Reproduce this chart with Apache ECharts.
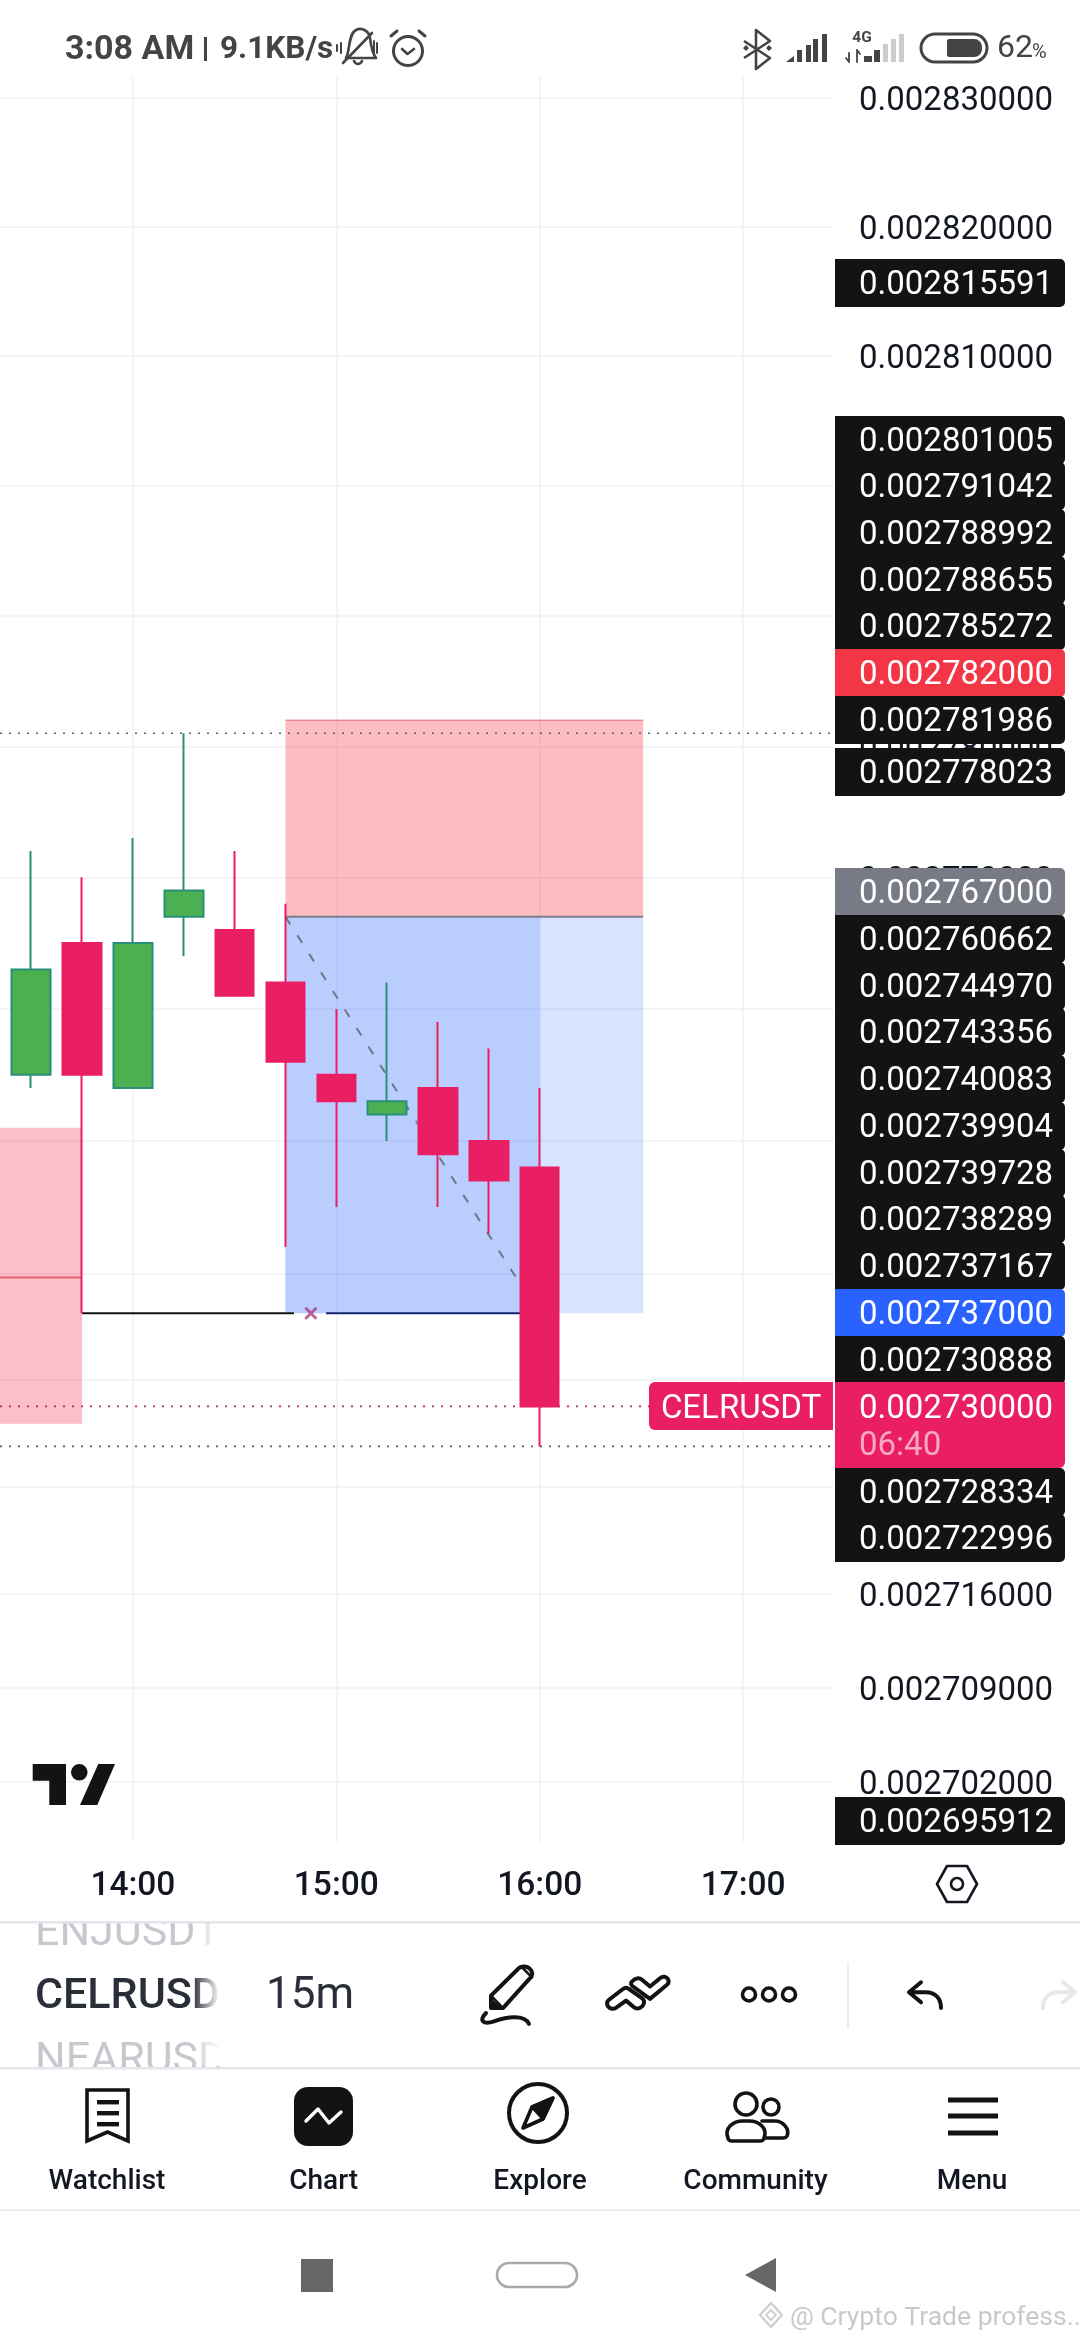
<!DOCTYPE html>
<html><head><meta charset="utf-8">
<style>html,body{margin:0;padding:0;background:#fff}#c{width:1080px;height:2340px}</style>
<script src="https://cdn.jsdelivr.net/npm/echarts@6/dist/echarts.min.js"></script>
</head><body><div id="c"></div>
<script>
// ---------- data ----------
const candleTimes = ['13:30','13:45','14:00','14:15','14:30','14:45','15:00','15:15','15:30','15:45','16:00'];
const opens  = [2755,2765,2754,2767,2766,2762,2755,2752,2754,2750,2748];
const closes = [2763,2755,2765,2769,2761,2756,2753,2753,2749,2747,2730];
const lows   = [2754,2737,2754,2764,2761,2742,2745,2750,2745,2743,2727];
const highs  = [2772,2770,2773,2781,2772,2768,2760,2762,2759,2757,2754];
const axisTicks = [0.00283,0.00282,0.00281,0.0028,0.00279,0.00278,0.00277,0.00276,0.00275,0.00274,0.002732,0.002724,0.002716,0.002709,0.002702];
const timeTicks = ['14:00','15:00','16:00','17:00'];
const badgeValues = ['0.002815591','0.002801005','0.002791042','0.002788992','0.002788655','0.002785272','0.002782000','0.002781986','0.002778023','0.002767000','0.002760662','0.002744970','0.002743356','0.002740083','0.002739904','0.002739728','0.002738289','0.002737167','0.002737000','0.002730888','0.002730000','0.002728334','0.002722996','0.002695912'];
const dottedLevels = [2781,2730,2727];
const targetTop = 2782, entry = 2767, stop = 2737;
const leftBoxTop = 2751, leftBoxMid = 2739.7, leftBoxBottom = 2728.7;
const navLabels = ['Watchlist','Chart','Explore','Community','Menu'];

// ---------- helpers ----------
const T = s => { const p = s.split(':').map(Number); return p[0]*60 + p[1] + (p[2]||0)/60; };
const P = u => u * 1e-6;
const hhmm = v => String(Math.floor(v/60)).padStart(2,'0') + ':' + String(Math.round(v%60)).padStart(2,'0');
const xMin = T('13:20:48'), xMax = T('17:26:30');
const boxEnd = T('16:30:30');
const FONT = 'Roboto';

// ---------- page furniture (badges, status bar, toolbars) ----------
const badgeCenters = [283,440,486,533,580,626,673,720,772,892,939,986,1032,1079,1126,1173,1219,1266,1313,1360,1405,1492,1538,1821];
const badgeColor = v => ({'0.002782000':'#f23645','0.002767000':'#787b86','0.002737000':'#2962ff','0.002730000':'#e91e63'})[v] || '#131313';
const g = [];
const Z = 50;
const txt = (text,x,y,size,fill,weight,align,z) => g.push({type:'text',z:z||Z,style:{text,x,y:y+3,fill,font:`${weight||400} ${size}px ${FONT}`,textAlign:align||'left',textVerticalAlign:'middle'}});
let shapeId = 0;
function svg(d,opt,z){
  const name = 'ic' + (shapeId++);
  echarts.graphic.registerShape(name, echarts.graphic.extendPath(d,{}));
  g.push({type:name,z:z||Z,style:Object.assign({fill:null,stroke:null,lineCap:'round',lineJoin:'round'},opt)});
}
const rect = (x,y,w,h,fill,r,z) => g.push({type:'rect',z:z||Z,shape:{x,y,width:w,height:h,r:r||0},style:{fill}});

badgeValues.forEach((v,i)=>{
  const cy = badgeCenters[i];
  if (v==='0.002730000') return;
  rect(835,cy-24,230,48,badgeColor(v),[0,5,5,0],Z+i);
  txt(v,859,cy,33,'#ffffff',400,'left',Z+i+0.5);
});
// current-price badge with countdown
rect(835,1382,230,86,'#e91e63',[0,0,6,0],Z+40);
txt('0.002730000',859,1407,33,'#fff',400,'left',Z+41);
txt('06:40',859,1444,33,'#f7a8c4',400,'left',Z+41);
rect(649,1382,184,48,'#e91e63',[6,0,0,6],Z+40);
txt('CELRUSDT',741,1407,33,'#fff',400,'center',Z+41);

// TradingView logo
svg('M32.7 1764H66V1805H49.3V1780.7H32.7Z',{fill:'#131313'});
svg('M98.3 1764H115L97.3 1805H80Z',{fill:'#131313'});
g.push({type:'circle',z:Z,shape:{cx:79.3,cy:1772.3,r:8.3},style:{fill:'#131313'}});

// status bar
txt('3:08 AM',65,47,34,'#444444',700);
rect(204,37,3,24,'#444');
txt('9.1KB/s',220,47,31.5,'#444444',700);
const S = {stroke:'#444',lineWidth:2.6};
svg('M346 58C350 52 348 34 356 30C362 27 369 31 370 38C371 46 372 53 376 58Z',S);
svg('M343 63L372 33',S);
svg('M354 61C356 65 360 65 362 61',S);
svg('M341 43V53M337 45V51M377 43V53M374 41V55',{stroke:'#444',lineWidth:2});
g.push({type:'circle',z:Z,shape:{cx:408,cy:51,r:14.5},style:{fill:null,stroke:'#444',lineWidth:3}});
svg('M391 36L397 31M425 36L419 31',{stroke:'#444',lineWidth:3});
svg('M402 49L407.5 54L414 49',{stroke:'#444',lineWidth:2.6});
svg('M744 41L770 58L756 69V30L770 41L744 58',{stroke:'#444',lineWidth:2.6,lineCap:'butt'});
svg('M743 48l3-3 3 3-3 3ZM766 48l3-3 3 3-3 3Z',{fill:'#444'});
// signal bars
svg('M786 62L794 56V62Z',{fill:'#444'});
[[797,5,12],[806,5,17],[813,5,23],[822,5,28]].forEach(b=>rect(b[0],62-b[2],b[1],b[2],'#444'));
[[864,8,6,'#444'],[874,6,12,'#444'],[883,5,18,'#cccccc'],[891,5,23,'#cccccc'],[899,5,28,'#cccccc']].forEach(b=>rect(b[0],62-b[2],b[1],b[2],b[3]));
txt('4G',862,35,15.5,'#444',700,'center');
svg('M849 53V62M846 58L849 62M857 62V50M857 50L860 54',{stroke:'#444',lineWidth:1.8});
g.push({type:'rect',z:Z,shape:{x:921,y:34,width:66,height:28,r:14},style:{fill:null,stroke:'#444',lineWidth:3}});
rect(947,39,35,18,'#444',[2,8,8,2]);
txt('62',997,46,32,'#444',400);
txt('%',1032,50,20,'#444',400);

// x-axis settings hexagon
svg('M937 1884L947 1866H967L977 1884L967 1902H947Z',{stroke:'#131722',lineWidth:2.6});
g.push({type:'circle',z:Z,shape:{cx:957,cy:1884,r:6},style:{fill:null,stroke:'#131722',lineWidth:2.6}});

// separators
rect(0,1921,1080,2.5,'#e4e6ec',0,Z-2);
rect(0,2067,1080,2.5,'#e4e6ec',0,Z+1);
rect(0,2209.5,1080,1.5,'#e4e6ec');
rect(847,1962,2,67,'#ecedf1');

// symbol carousel
txt('ENJUSDT',35,1931,43,'#c6c8ce',400,'left',Z-5);
txt('NEARUSDT',35,2058,43,'#c6c8ce',400,'left',Z-5);
rect(0,1900,700,21,'#fff',0,Z-4);
rect(0,2068,400,12,'#fff',0,Z-4);
txt('CELRUSD',35,1994,43,'#2a2e39',500,'left',Z-5);
g.push({type:'rect',z:Z-4,shape:{x:192,y:1924,width:28,height:142},style:{fill:{type:'linear',x:0,y:0,x2:1,y2:0,colorStops:[{offset:0,color:'rgba(255,255,255,0)'},{offset:1,color:'#fff'}]}}});
rect(220,1924,40,142,'#fff',0,Z-4);
rect(220,2030,120,37,'#fff',0,Z-4);
txt('15m',266,1994,44,'#2a2e39',400);

// toolbar icons (drawn on a 1940-based baseline, compressed to the toolbar height)
const squash = d => d.replace(/([MLCV])([^MLCVHZ]*)/g,(m,c,a)=>c+a.trim().split(/\s+/).map((v,i)=>(c==='V'||i%2===1)?(1940+(+v-1940)*0.83).toFixed(1):v).join(' ')+' ');
const B = {stroke:'#131313',lineWidth:4};
svg(squash('M491 2022V2007L518 1975C521 1971 527 1971 530 1975C533 1978 533 1983 530 1986L503 2022Z'),B);
svg(squash('M491 2007L503 2022M522 1973L532 1985'),{stroke:'#131313',lineWidth:2.6});
svg(squash('M491 2022V2010L502 2022Z'),{fill:'#131313'});
svg(squash('M486 2028C478 2038 484 2042 494 2038C506 2033 524 2029 529 2041'),B);
svg(squash('M608 2020C606 2016 607 2014 609 2012L623 1999C625 1997 627 1997 629 1999L643 2011C645 2014 644 2019 641 2021C639 2023 636 2023 634 2021L626 2013L617 2021C614 2024 610 2023 608 2020Z'),B);
svg(squash('M632 1990C635 1986 639 1985 642 1988L650 1996L660 1986C663 1983 666 1984 668 1987C669 1990 669 1992 667 1994L650 2011L633 1996C631 1994 630 1992 632 1990Z'),B);
[749,769,789].forEach(x=>g.push({type:'circle',z:Z,shape:{cx:x,cy:1994.5,r:6.5},style:{fill:null,stroke:'#131313',lineWidth:3.6}}));
svg(squash('M921 1991L909 2003L921 2015M909 2003H926C935 2003 941 2010 941 2022'),B);
svg(squash('M1063 1991L1075 2003L1063 2015M1075 2003H1058C1049 2003 1043 2010 1043 2022'),{stroke:'#e8e8ea',lineWidth:4});

// bottom nav
const navX = [107,323.7,540,755.5,972];
navLabels.forEach((t,i)=>txt(t,navX[i],2179,28,'#131722',500,'center'));
svg('M87 2090H128V2141L107.5 2132L87 2141Z',{stroke:'#131313',lineWidth:3.6,lineCap:'butt',lineJoin:'miter'});
[2102,2113,2124].forEach(y=>rect(97,y-2,22,4.4,'#131313'));
rect(294,2087,59,59,'#131313',14);
svg('M306 2121L318 2109L329 2123L341 2112',{stroke:'#fff',lineWidth:3.4});
g.push({type:'circle',z:Z,shape:{cx:538,cy:2113,r:29},style:{fill:null,stroke:'#131313',lineWidth:4}});
svg('M553 2098L543 2119L523 2128L532 2107Z',{stroke:'#131313',lineWidth:3.6});
svg('M553 2098L543 2119L532 2107Z',{fill:'#131313',stroke:'#131313',lineWidth:3});
g.push({type:'circle',z:Z,shape:{cx:746,cy:2104,r:11},style:{fill:null,stroke:'#131313',lineWidth:3.6}});
g.push({type:'circle',z:Z,shape:{cx:771,cy:2107,r:8},style:{fill:null,stroke:'#131313',lineWidth:3.6}});
svg('M728 2138C724 2128 733 2121 743 2121H749C759 2121 768 2128 764 2138C764 2140 762 2141 760 2141H732C730 2141 728 2140 728 2138Z',{stroke:'#131313',lineWidth:3.6});
svg('M762 2121H775C783 2121 790 2129 787 2136C786 2138 785 2138 783 2138H766',{stroke:'#131313',lineWidth:3.6});
[2100,2116,2133].forEach(y=>rect(948,y-2.6,50,5.2,'#131313'));

// android nav
rect(301,2259,32,33,'#666');
g.push({type:'rect',z:Z,shape:{x:497,y:2263,width:80,height:24,r:12},style:{fill:null,stroke:'#aaaaaa',lineWidth:2.6}});
svg('M776 2258V2292L745 2275Z',{fill:'#666'});

// watermark
txt('@ Crypto Trade profess...',790,2315,26.5,'#c9c9c9',400);
svg('M771 2303L782 2315L771 2327L760 2315Z',{stroke:'#cfcfcf',lineWidth:2.4});
svg('M771 2310L776 2315L771 2320L766 2315Z',{stroke:'#cfcfcf',lineWidth:2});

// ---------- chart ----------
const chart = echarts.init(document.getElementById('c'),null,{renderer:'canvas',width:1080,height:2340});
const GRID = '#f0f1f5';
const overlayLine = (data,color,width,type,z) => ({type:'line',data,showSymbol:false,symbol:'none',silent:true,z:z||4,lineStyle:{color,width,type:type||'solid'},animation:false});
chart.setOption({
  animation:false,
  backgroundColor:'#ffffff',
  textStyle:{fontFamily:FONT},
  grid:{left:0,right:247,top:77,bottom:2340-1842,containLabel:false},
  xAxis:{type:'value',min:xMin,max:xMax,scale:true,
    axisLine:{show:false},axisTick:{show:false,customValues:timeTicks.map(T)},
    splitLine:{show:true,lineStyle:{color:GRID,width:1.5}},
    axisLabel:{customValues:timeTicks.map(T),formatter:hhmm,margin:28,color:'#131722',fontSize:33.5,fontWeight:500,fontFamily:FONT,hideOverlap:false}},
  yAxis:{type:'log',logBase:10,min:0.00269750,max:0.00283163,position:'right',
    axisLine:{show:false},axisTick:{show:false,customValues:axisTicks},
    splitLine:{show:true,lineStyle:{color:GRID,width:1.5}},
    axisLabel:{customValues:axisTicks,formatter:v=>'{v|'+(+v).toFixed(9)+'}',margin:26,color:'#131722',fontSize:33,fontFamily:FONT,
      rich:{v:{color:'#131722',fontSize:33,fontFamily:FONT,padding:[8,0,0,0]}}}},
  series:[
    {type:'line',data:[],z:1,silent:true,
     markArea:{silent:true,z:1,data:[
       [{xAxis:T('14:45'),yAxis:P(targetTop),itemStyle:{color:'rgba(242,54,69,0.33)'}},{xAxis:boxEnd,yAxis:P(entry)}],
       [{xAxis:T('14:45'),yAxis:P(entry),itemStyle:{color:'rgba(41,98,255,0.32)'}},{xAxis:T('16:00'),yAxis:P(stop)}],
       [{xAxis:T('16:00'),yAxis:P(entry),itemStyle:{color:'rgba(41,98,255,0.18)'}},{xAxis:boxEnd,yAxis:P(stop)}],
       [{xAxis:xMin,yAxis:P(leftBoxTop),itemStyle:{color:'rgba(245,54,85,0.32)'}},{xAxis:T('13:45'),yAxis:P(leftBoxBottom)}]
     ]}
    },
    ...dottedLevels.map(v=>overlayLine([[xMin,P(v)],[xMax,P(v)]],v===2730?'#b03060':'#555b6a',1.6,[2,7],3)),
    overlayLine([[T('14:45'),P(targetTop)],[boxEnd,P(targetTop)]],'rgba(225,90,100,0.6)',1.5,'solid',2),
    overlayLine([[xMin,P(leftBoxMid)],[T('13:45'),P(leftBoxMid)]],'#e0606f',2,'solid',3),
    overlayLine([[T('14:45'),P(entry)],[boxEnd,P(entry)]],'#7d7d90',2,'solid',3),
    overlayLine([[T('13:45'),P(stop)],[T('14:47:30'),P(stop)]],'#131313',2.2,'solid',3),
    overlayLine([[T('14:57'),P(stop)],[T('16:00'),P(stop)]],'#12246b',2.2,'solid',3),
    overlayLine([[T('14:45'),P(entry)],[T('15:53'),P(2739.7)]],'#6f7582',2,[9,13],3),
    {type:'scatter',z:6,silent:true,data:[[T('14:52:30'),P(stop)]],symbol:'path://M0 0L10 10M10 0L0 10',symbolSize:11,itemStyle:{color:'none',borderColor:'#a9407e',borderWidth:3}},
    {type:'candlestick',z:5,barWidth:39,
     data:candleTimes.map((t,i)=>[T(t),P(opens[i]),P(closes[i]),P(lows[i]),P(highs[i])]),
     itemStyle:{color:'#4caf50',color0:'#e91e63',borderColor:'#2a8f78',borderColor0:'#e91e63',borderWidth:2}}
  ],
  graphic:{elements:g}
});
</script></body></html>
